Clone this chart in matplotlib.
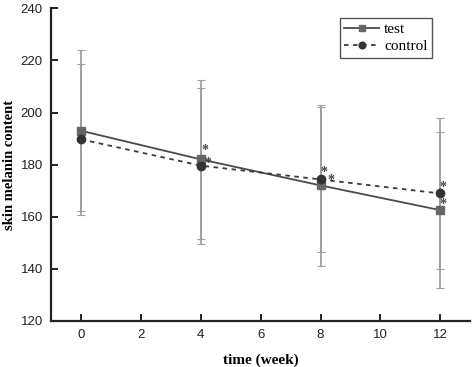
import matplotlib
matplotlib.use("Agg")
import matplotlib.pyplot as plt

# data
weeks = [0, 4, 8, 12]
test_mean = [193.0, 182.0, 172.0, 162.5]
test_err = [31.0, 30.5, 31.0, 30.0]
control_mean = [189.7, 179.6, 174.3, 168.9]
control_err = [29.0, 30.0, 28.0, 29.0]

# significance marks (x, y)
star_x = [4.12, 4.22, 8.1, 8.35, 12.08, 12.08]
star_y = [185.5, 180.3, 176.8, 173.8, 171.3, 164.8]

fig = plt.figure(figsize=(4.74, 3.67), dpi=100)
ax = fig.add_axes([0.108, 0.126, 0.884, 0.851])

ax.errorbar(weeks, test_mean, yerr=test_err, fmt='none', ecolor='#a0a0a0',
            elinewidth=1.3, capsize=3, capthick=0.8, zorder=1)
ax.errorbar(weeks, control_mean, yerr=control_err, fmt='none', ecolor='#a0a0a0',
            elinewidth=1.3, capsize=3, capthick=0.8, zorder=1)

ax.plot(weeks, test_mean, '-', color='#4a4a4a', lw=1.3, marker='s', ms=6,
        mfc='#666666', mec='#666666', label='test', zorder=3)
ax.plot(weeks, control_mean, linestyle=(0, (2.5, 2.5)), color='#3a3a3a', lw=1.3,
        marker='o', ms=6, mfc='#333333', mec='#333333', label='control', zorder=3)

for sx, sy in zip(star_x, star_y):
    ax.text(sx, sy, '*', fontsize=10, fontweight='bold', color='#444444',
            ha='center', va='center', family='Liberation Serif', zorder=4)

ax.set_xlim(-1, 13)
ax.set_ylim(120, 240)
ax.set_xticks([0, 2, 4, 6, 8, 10, 12])
ax.set_yticks([120, 140, 160, 180, 200, 220, 240])

for side in ['top', 'right']:
    ax.spines[side].set_visible(False)
for side in ['left', 'bottom']:
    ax.spines[side].set_linewidth(1.6)
    ax.spines[side].set_color('#222222')

ax.tick_params(direction='in', length=5, width=1.4, color='#222222',
               labelsize=9.5, pad=6, labelcolor='#222222')
for lab in ax.get_xticklabels() + ax.get_yticklabels():
    lab.set_family('Liberation Sans')

ax.set_xlabel('time (week)', family='Liberation Serif', fontweight='bold',
              fontsize=11, labelpad=9)
ax.set_ylabel('skin melanin content', family='Liberation Serif', fontweight='bold',
              fontsize=10.5, labelpad=3)

leg = ax.legend(loc='upper right', bbox_to_anchor=(0.909, 0.969), borderaxespad=0,
                prop={'family': 'Liberation Serif', 'size': 11},
                fancybox=False, edgecolor='#555555', framealpha=1,
                handlelength=2.3, handletextpad=0.3, borderpad=0.3,
                labelspacing=0.2, markerscale=0.8)
leg.get_frame().set_linewidth(1.0)

fig.savefig('out.png', dpi=100)
